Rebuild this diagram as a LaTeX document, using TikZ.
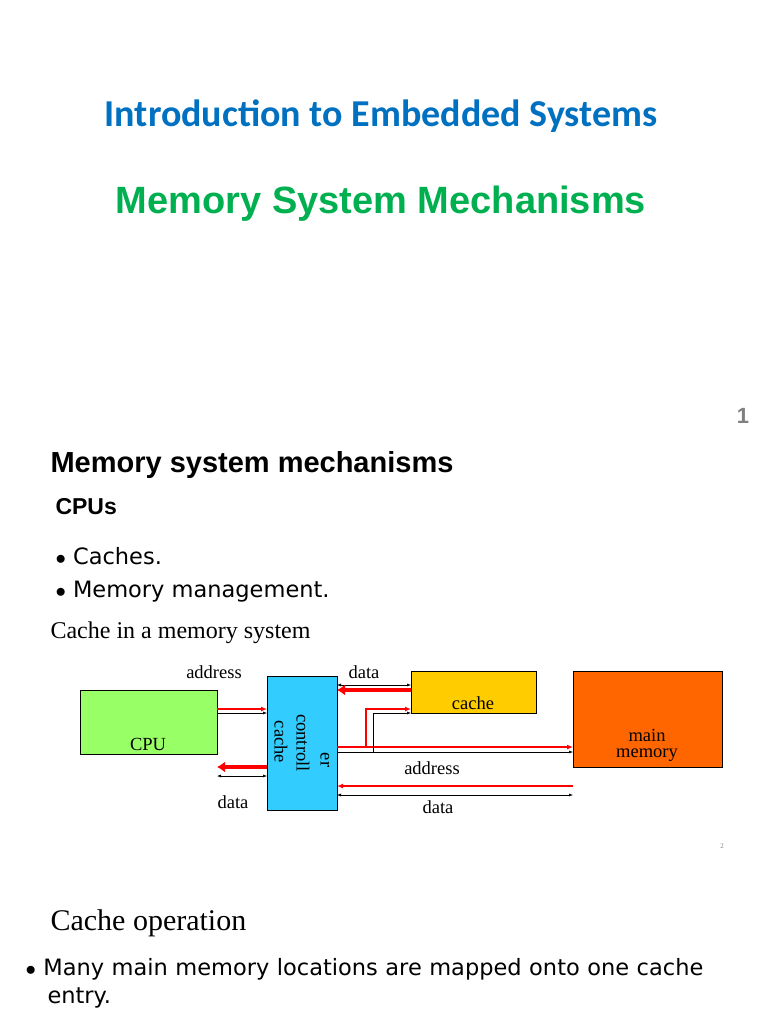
\documentclass[tikz,border=0pt]{standalone}
\usepackage{fontspec}
\setmainfont{Liberation Serif}
\newfontfamily\fcal{Carlito}
\newfontfamily\fari{Liberation Sans}
\newfontfamily\fdj{DejaVu Sans}
\usetikzlibrary{arrows.meta}
\definecolor{tblue}{RGB}{0,112,192}
\definecolor{tgreen}{RGB}{0,176,80}
\definecolor{cpug}{RGB}{153,255,102}
\definecolor{ccc}{RGB}{51,204,255}
\definecolor{cay}{RGB}{255,204,0}
\definecolor{mmo}{RGB}{255,102,0}
\begin{document}
\begin{tikzpicture}[x=1pt,y=-1pt,
 box/.style={draw,line width=0.6pt,anchor=north west,inner sep=0,minimum width=#1},
 rd/.style={red,line width=2pt,-{Latex[length=6pt,width=5pt]}},
 rdt/.style={red,line width=4pt,-{Latex[length=8pt,width=11pt]}},
 bk/.style={black,line width=0.5pt,-{Latex[length=4pt,width=3pt]}},
 bkd/.style={black,line width=0.5pt,{Latex[length=4pt,width=3pt]}-{Latex[length=4pt,width=3pt]}},
 lbl/.style={font=\fontsize{18.5}{20}\selectfont}]
\useasboundingbox (0,0) rectangle (768,1024);
\node[text=tblue,font=\fcal\bfseries\fontsize{38}{42}\selectfont] (t1) at (381,116) {Introduction to Embedded Systems};
\node[text=tgreen,font=\fari\bfseries\fontsize{38}{42}\selectfont] (t2) at (381,204) {Memory System Mechanisms};
\node[text=gray,font=\fari\bfseries\fontsize{22}{24}\selectfont] (p1) at (743,416) {1};
\node[anchor=west,font=\fari\bfseries\fontsize{29}{32}\selectfont] (h) at (47,465) {Memory system mechanisms};
\node[anchor=west,font=\fari\bfseries\fontsize{23}{26}\selectfont] (c) at (52,507) {CPUs};
\node[anchor=west,font=\fdj\fontsize{22.5}{26}\selectfont] (b1) at (52,556) {$\bullet$ Caches.};
\node[anchor=west,font=\fdj\fontsize{22.5}{26}\selectfont] (b2) at (52,592) {$\bullet$ Memory management.};
\node[anchor=west,font=\fontsize{24}{26}\selectfont] (cap) at (47,633) {Cache in a memory system};
% boxes
\node[box=137,minimum height=64,fill=cpug] (cpu) at (80,690) {};
\node at (148,744) [lbl] {CPU};
\node[box=70,minimum height=134,fill=ccc] (cc) at (267,676) {};
\node[lbl,rotate=-90] at (281,742) {cache};
\node[lbl,rotate=-90] at (303,743) {controll};
\node[lbl,rotate=-90] at (325,760) {er};
\node[box=125,minimum height=42,fill=cay] (ca) at (411,671) {};
\node[lbl] at (473,703) {cache};
\node[box=149,minimum height=96,fill=mmo] (mm) at (573,671) {};
\node[lbl,align=center] at (647,745) {main\\[-4pt]memory};
% labels
\node[lbl] at (214,672) {address};
\node[lbl] at (364,672) {data};
\node[lbl] at (432,768) {address};
\node[lbl] at (233,802) {data};
\node[lbl] at (438,807) {data};
% arrows
\draw[rd] (217,709) -- (267,709);
\draw[bk] (217,713) -- (267,713);
\draw[rdt] (267,767) -- (217,767);
\draw[bkd] (217,776) -- (267,776);
\draw[bkd] (337,685) -- (411,685);
\draw[rdt] (411,690) -- (337,690);
\draw[rd] (337,747) -- (573,747);
\draw[bk] (337,752) -- (573,752);
\draw[rd] (366,747) -- (366,709) -- (411,709);
\draw[bk] (373,752) -- (373,713) -- (411,713);
\draw[rd] (573,786) -- (337,786);
\draw[bkd] (337,795) -- (573,795);
\node[font=\fontsize{7}{8}\selectfont,text=gray] at (722,846) {2};
\node[anchor=west,font=\fontsize{30}{34}\selectfont] (co) at (47,923) {Cache operation};
\node[anchor=north west,font=\fdj\fontsize{22.5}{28}\selectfont,align=left,text width=740] at (22,955) {$\bullet$ Many main memory locations are mapped onto one cache\\\hspace*{22pt}entry.};
\end{tikzpicture}
\end{document}
